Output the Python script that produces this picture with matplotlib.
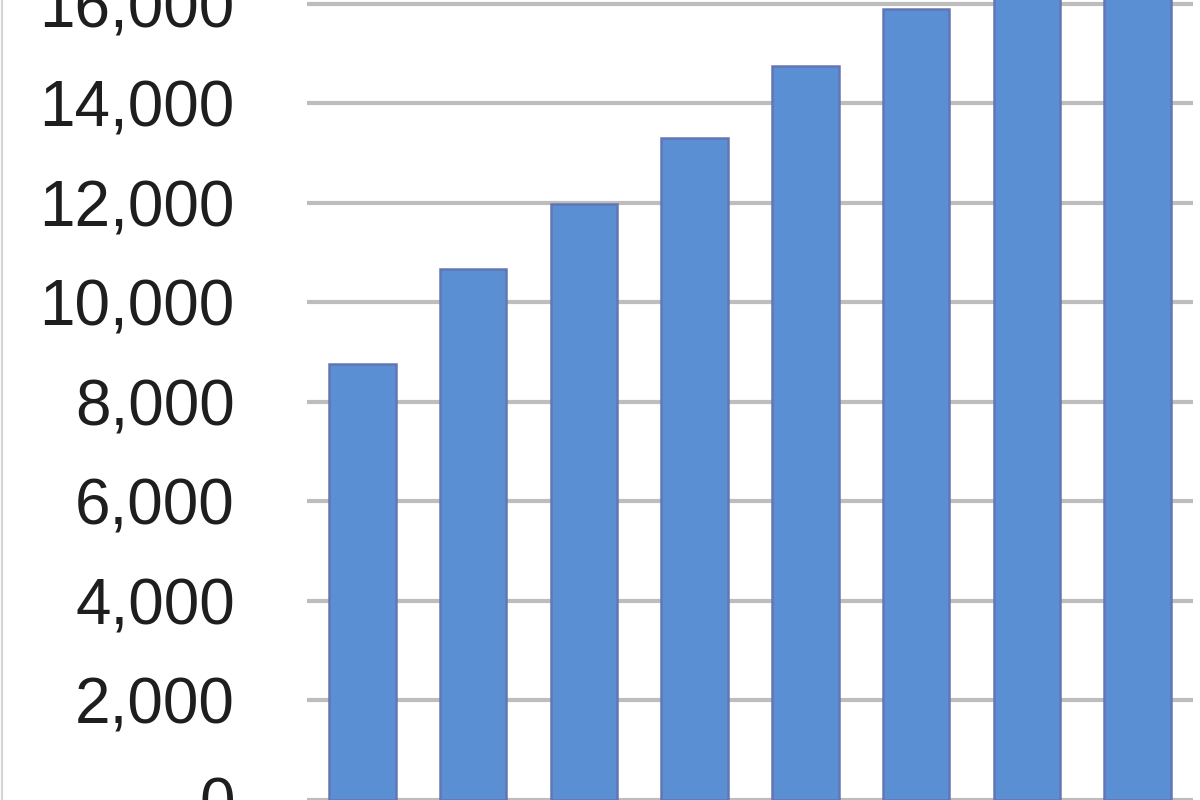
import matplotlib.pyplot as plt
from matplotlib.lines import Line2D
from matplotlib.ticker import FuncFormatter

# values (last two bars run past the top edge)
categories = ["1", "2", "3", "4", "5", "6", "7", "8"]
values = [8770, 10670, 11970, 13300, 14750, 15900, 17100, 18300]
y_ticks = [0, 2000, 4000, 6000, 8000, 10000, 12000, 14000, 16000]

fig = plt.figure(figsize=(12, 8), dpi=100)
# the picture is a crop: plot area fills the full height, 0 sits just below the edge
ax = fig.add_axes([307 / 1200, 0, (1193 - 307) / 1200, 1])

ax.bar(range(len(categories)), values, width=0.6,
       color="#5b8fd3", edgecolor="#6276b4", linewidth=1.8, zorder=3)

ax.set_xlim(-0.5, len(categories) - 0.5)
ax.set_ylim(179, 16080)
ax.set_yticks(y_ticks)
ax.yaxis.set_major_formatter(FuncFormatter(lambda v, p: f"{int(v):,}"))
ax.grid(axis="y", color="#bdbdbd", linewidth=3, zorder=0)
ax.set_axisbelow(True)

for s in ax.spines.values():
    s.set_visible(False)
ax.tick_params(axis="y", length=0, pad=52, labelsize=46, labelcolor="#1e1e1e")
ax.tick_params(axis="x", length=0, labelbottom=False)
for lbl in ax.get_yticklabels():
    lbl.set_fontfamily("Liberation Sans")
    lbl.set_clip_on(False)

# thin chart border at the left edge
fig.add_artist(Line2D([0.002, 0.002], [0, 1], color="#d4d4d4", linewidth=1.5))

fig.savefig("out.png", dpi=100)
